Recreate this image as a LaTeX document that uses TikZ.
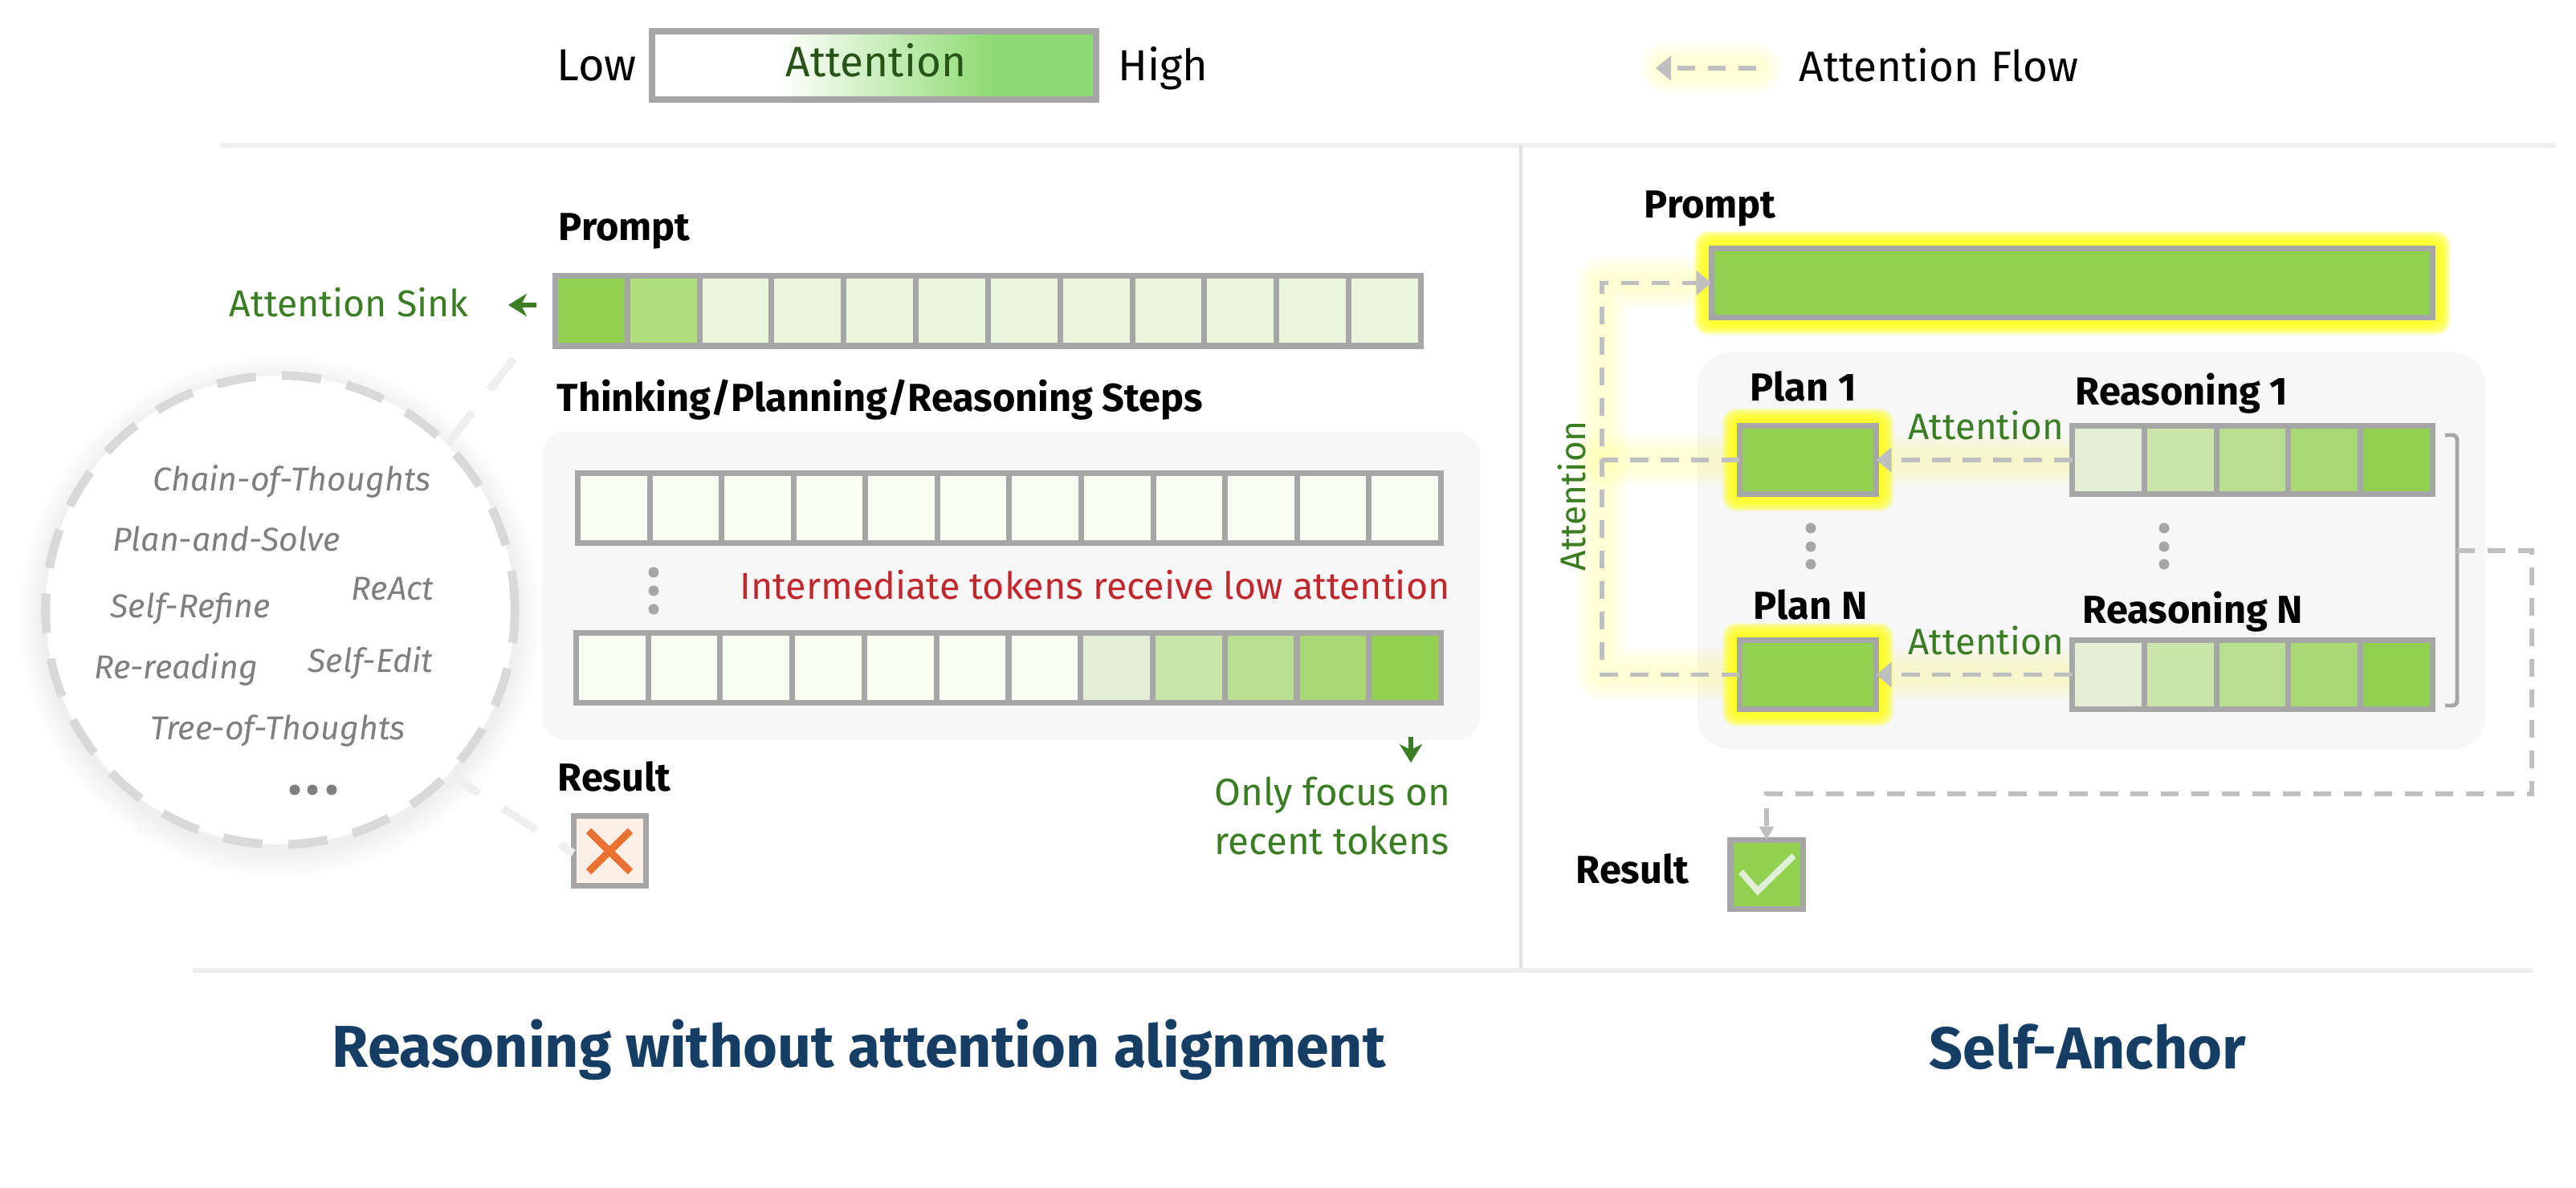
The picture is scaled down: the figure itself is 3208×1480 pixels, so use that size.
\documentclass[tikz,border=0pt]{standalone}
\usepackage{fontspec}
\setmainfont{Fira Sans}
\usetikzlibrary{arrows.meta,calc}
\definecolor{barline}{HTML}{A6A6A6}
\definecolor{rulegray}{HTML}{EFEFEF}
\definecolor{panelgray}{HTML}{F7F7F7}
\definecolor{flowgray}{HTML}{BFBFBF}
\definecolor{dashgray}{HTML}{D9D9D9}
\definecolor{textgray}{HTML}{7F7F7F}
\definecolor{attgreen}{HTML}{3B7D23}
\definecolor{darkgreen}{HTML}{275317}
\definecolor{alertred}{HTML}{C1272D}
\definecolor{titleblue}{HTML}{163E64}
\definecolor{crossorange}{HTML}{E97132}
\definecolor{crossbg}{HTML}{FBEFE6}
\definecolor{checkwhite}{HTML}{E2F0D9}
\definecolor{legendgreen}{HTML}{8FDB73}
\definecolor{glowyellow}{HTML}{FFFF22}
\definecolor{paleyellow}{HTML}{FFFF99}
\definecolor{lvA}{HTML}{92D050}
\definecolor{lvB}{HTML}{A9D875}
\definecolor{lvC}{HTML}{B8DF8F}
\definecolor{lvD}{HTML}{CBE5A8}
\definecolor{lvE}{HTML}{E2EFD5}
\definecolor{lvF}{HTML}{E8F5DA}
\definecolor{lvG}{HTML}{F8FEF2}
\definecolor{lvH}{HTML}{AEDE7C}
\pgfdeclarelayer{panel}
\pgfdeclarelayer{glow}
\pgfsetlayers{panel,glow,main}
\tikzset{
  cell/.style={draw=barline, line width=2pt, inner sep=0pt, outer sep=0pt, minimum height=.87cm},
  head/.style={font=\fontsize{13.85}{16}\selectfont\bfseries, anchor=base west, inner sep=0pt},
  plain/.style={font=\fontsize{#1}{16}\selectfont, anchor=base west, inner sep=0pt},
  greenlabel/.style={plain=#1, text=attgreen},
  method/.style={font=\fontsize{11.7}{14}\selectfont\itshape, text=textgray, anchor=base west, inner sep=0pt},
  bigtitle/.style={font=\fontsize{20.9}{24}\selectfont\bfseries, text=titleblue, anchor=base west, inner sep=0pt},
  flow/.style={draw=flowgray, line width=1.6pt, dash pattern=on 6.3pt off 4.5pt},
  flowhead/.style={-{Triangle[length=5.4pt,width=8.6pt,fill=flowgray]}},
  smallhead/.style={-{Triangle[length=4.8pt,width=5pt,fill=flowgray]}},
  greenarrow/.style={-{Stealth[length=6.5pt,width=8pt,inset=2pt]}, draw=attgreen, line width=1.5pt},
  callout/.style={draw=rulegray, line width=2.8pt, dash pattern=on 14pt off 10pt},
  ruleline/.style={draw=rulegray, line width=1.5pt},
  paleline/.style={draw=paleyellow, opacity=.1, line cap=round, line join=round},
  graydot/.style={circle, fill=barline, inner sep=0pt, minimum size=.13cm},
  textdot/.style={circle, fill=textgray, inner sep=0pt, minimum size=.13cm}
}
\begin{document}
\begin{tikzpicture}[x=0.01cm,y=-0.01cm]
\useasboundingbox (0,0) rectangle (3208,1480);
\draw[ruleline] (275,181) -- (3183,181);
\draw[ruleline] (240,1209) -- (3155,1209);
\draw[draw=dashgray!80, line width=1.2pt] (1894,181) -- (1894,1207);

\fill[legendgreen] (1236,39) rectangle (1365,124);
\shade[left color=white, right color=legendgreen] (970,39) rectangle (1236,124);
\node[draw=barline, line width=2.2pt, minimum width=5.53cm, minimum height=.85cm, inner sep=0pt] (legendbar) at (1088.5,81.5) {};
\node[plain=15.9] (low) at (693,101) {Low};
\node[plain=15.4] (high) at (1392,101) {High};
\node[plain=15.1, text=darkgreen, anchor=base] (legendatt) at (1091,96) {Attention};
\coordinate (legendend) at (2187,85);
\coordinate (legendtip) at (2062,85);
\foreach \w in {64,54,44,34,24} \draw[paleline, line width=\w*.2845pt] (legendend) -- (2075,85);
\draw[flow, flowhead] (legendend) -- (legendtip);
\node[plain=15.1] (flowtext) at (2240,102) {Attention Flow};

\node[head] (promptl) at (695,300) {Prompt};
\foreach \c [count=\i] in {lvA,lvH,lvF,lvF,lvF,lvF,lvF,lvF,lvF,lvF,lvF,lvF}
  \node[cell, fill=\c, minimum width=.8983cm] (pl\i) at ({691.5+89.83*(\i-.5)},387.5) {};
\node[greenlabel=13.2] (sink) at (285,395) {Attention Sink};
\coordinate (sinktail) at (668,380);
\coordinate (sinkhead) at (633,380);
\draw[greenarrow] (sinktail) -- (sinkhead);
\node[head] (thinking) at (693,513) {Thinking/Planning/Reasoning Steps};
\fill[panelgray, rounded corners=.3cm] (675,538) rectangle (1843,922);
\foreach \i in {1,...,12}
  \node[cell, fill=lvG, minimum width=.8958cm] (ta\i) at ({719.5+89.58*(\i-.5)},633) {};
\foreach \c [count=\i] in {lvG,lvG,lvG,lvG,lvG,lvG,lvG,lvE,lvD,lvC,lvB,lvA}
  \node[cell, fill=\c, minimum width=.8975cm] (tb\i) at ({717.5+89.75*(\i-.5)},832) {};
\foreach \y [count=\i] in {713,736,759}
  \node[graydot] (tdot\i) at (814,\y) {};
\node[plain=13.25, text=alertred] (lowtext) at (921,747) {Intermediate tokens receive low attention};
\coordinate (focustail) at (1757,918);
\coordinate (focushead) at (1757,950);
\draw[greenarrow] (focustail) -- (focushead);
\node[greenlabel=13.5] (focusa) at (1512,1004) {Only focus on};
\node[greenlabel=13.5] (focusb) at (1512,1065) {recent tokens};
\node[head] (resultl) at (694,986) {Result};
\node[cell, fill=crossbg, minimum width=.9cm, minimum height=.87cm] (resultbad) at (759.5,1060) {};
\draw[crossorange, line width=2.6pt] (733,1035) -- (785,1086) (785,1035) -- (733,1086);

\foreach \w in {325,321,317,313,309,305,301,297} \fill[black, opacity=.006] (349,768) circle[radius=\w*.01cm];
\coordinate (calla) at (640,447);
\coordinate (callb) at (555,556);
\coordinate (callc) at (555,962);
\coordinate (calld) at (714,1063);
\draw[callout] (calla) -- (callb);
\draw[callout] (callc) -- (calld);
\node[circle, fill=white, draw=dashgray, line width=3.1pt, dash pattern=on 14pt off 9.2pt, minimum size=5.84cm, inner sep=0pt] (methods) at (349,760) {};
\node[method] (cot) at (190,612) {Chain-of-Thoughts};
\node[method] (pas) at (140,687) {Plan-and-Solve};
\node[method] (react) at (437,748) {ReAct};
\node[method] (refine) at (137,770) {Self-Refine};
\node[method] (reread) at (117,846) {Re-reading};
\node[method] (edit) at (383,838) {Self-Edit};
\node[method] (tot) at (187,922) {Tree-of-Thoughts};
\foreach \x [count=\i] in {367,389,413}
  \node[textdot] (mdot\i) at (\x,984) {};

\node[head] (promptr) at (2047,272) {Prompt};
\begin{pgfonlayer}{panel}
\fill[panelgray, rounded corners=.4cm] (2114,439) rectangle (3095,933);
\end{pgfonlayer}
\node[cell, fill=lvA, minimum width=8.98cm, minimum height=.86cm] (promptbar) at (2580.5,352.5) {};
\node[cell, fill=lvA, minimum width=1.7cm, minimum height=.85cm] (plana) at (2251.5,573) {};
\node[cell, fill=lvA, minimum width=1.7cm, minimum height=.86cm] (planb) at (2251.5,840.5) {};
\foreach \c [count=\i] in {lvE,lvD,lvC,lvB,lvA} {
  \node[cell, fill=\c, minimum width=.898cm, minimum height=.85cm] (ra\i) at ({2580.5+89.8*(\i-.5)},573) {};
  \node[cell, fill=\c, minimum width=.898cm, minimum height=.86cm] (rb\i) at ({2580.5+89.8*(\i-.5)},840.5) {};
}
\coordinate (busa) at (1995,573);
\coordinate (busb) at (1995,840.5);
\begin{pgfonlayer}{glow}
\foreach \w in {64,54,44,34,24} {
  \draw[paleline, line width=\w*.2845pt] (planb.west) -- (busb) |- (promptbar.west);
  \draw[paleline, line width=\w*.2845pt] (plana.west) -- (busa);
  \draw[paleline, line width=\w*.2845pt] (ra1.west) -- (plana.east);
  \draw[paleline, line width=\w*.2845pt] (rb1.west) -- (planb.east);
}
\foreach \b in {promptbar,plana,planb} {
  \foreach \w in {21,19,17,15,13,11,9} \fill[glowyellow, opacity=.3, rounded corners=.16cm] ($(\b.north west)+(-\w,-\w)$) rectangle ($(\b.south east)+(\w,\w)$);
}
\end{pgfonlayer}
\draw[flow, flowhead] (planb.west) -- (busb) |- (promptbar.west);
\draw[flow] (plana.west) -- (busa);
\draw[flow, flowhead] (ra1.west) -- (plana.east);
\draw[flow, flowhead] (rb1.west) -- (planb.east);
\node[greenlabel=12.6, rotate=90] (attv) at (1974,712) {Attention};
\node[head] (plant) at (2179,500) {Plan 1};
\node[head] (plann) at (2183,772) {Plan N};
\node[head] (reast) at (2584,505) {Reasoning 1};
\node[head] (reasn) at (2593,777) {Reasoning N};
\node[greenlabel=13] (atta) at (2376,548) {Attention};
\node[greenlabel=13] (attb) at (2376,816) {Attention};
\foreach \y [count=\i] in {658,681,703} {
  \node[graydot] (pdot\i) at (2255,\y) {};
  \node[graydot] (rdot\i) at (2695,\y) {};
}
\coordinate (bracea) at (3045,542);
\coordinate (braceb) at (3045,879);
\coordinate (bracem) at (3060,686);
\coordinate (turn) at (3153,989);
\draw[draw=barline, line width=1.4pt, rounded corners=.06cm] (bracea) -- (3060,542) |- (braceb);
\node[head] (resultr) at (1962,1101) {Result};
\node[cell, fill=lvA, minimum width=.9cm, minimum height=.86cm] (resultok) at (2200,1089.5) {};
\draw[checkwhite, line width=2.2pt, miter limit=10] (2168,1086) -- (2189,1110) -- (2234,1066);
\draw[flow, smallhead] (bracem) -| (turn) -| (resultok.north);
\node[bigtitle] (titlea) at (413,1330) {Reasoning without attention alignment};
\node[bigtitle] (titleb) at (2402,1332) {Self-Anchor};
\end{tikzpicture}
\end{document}
